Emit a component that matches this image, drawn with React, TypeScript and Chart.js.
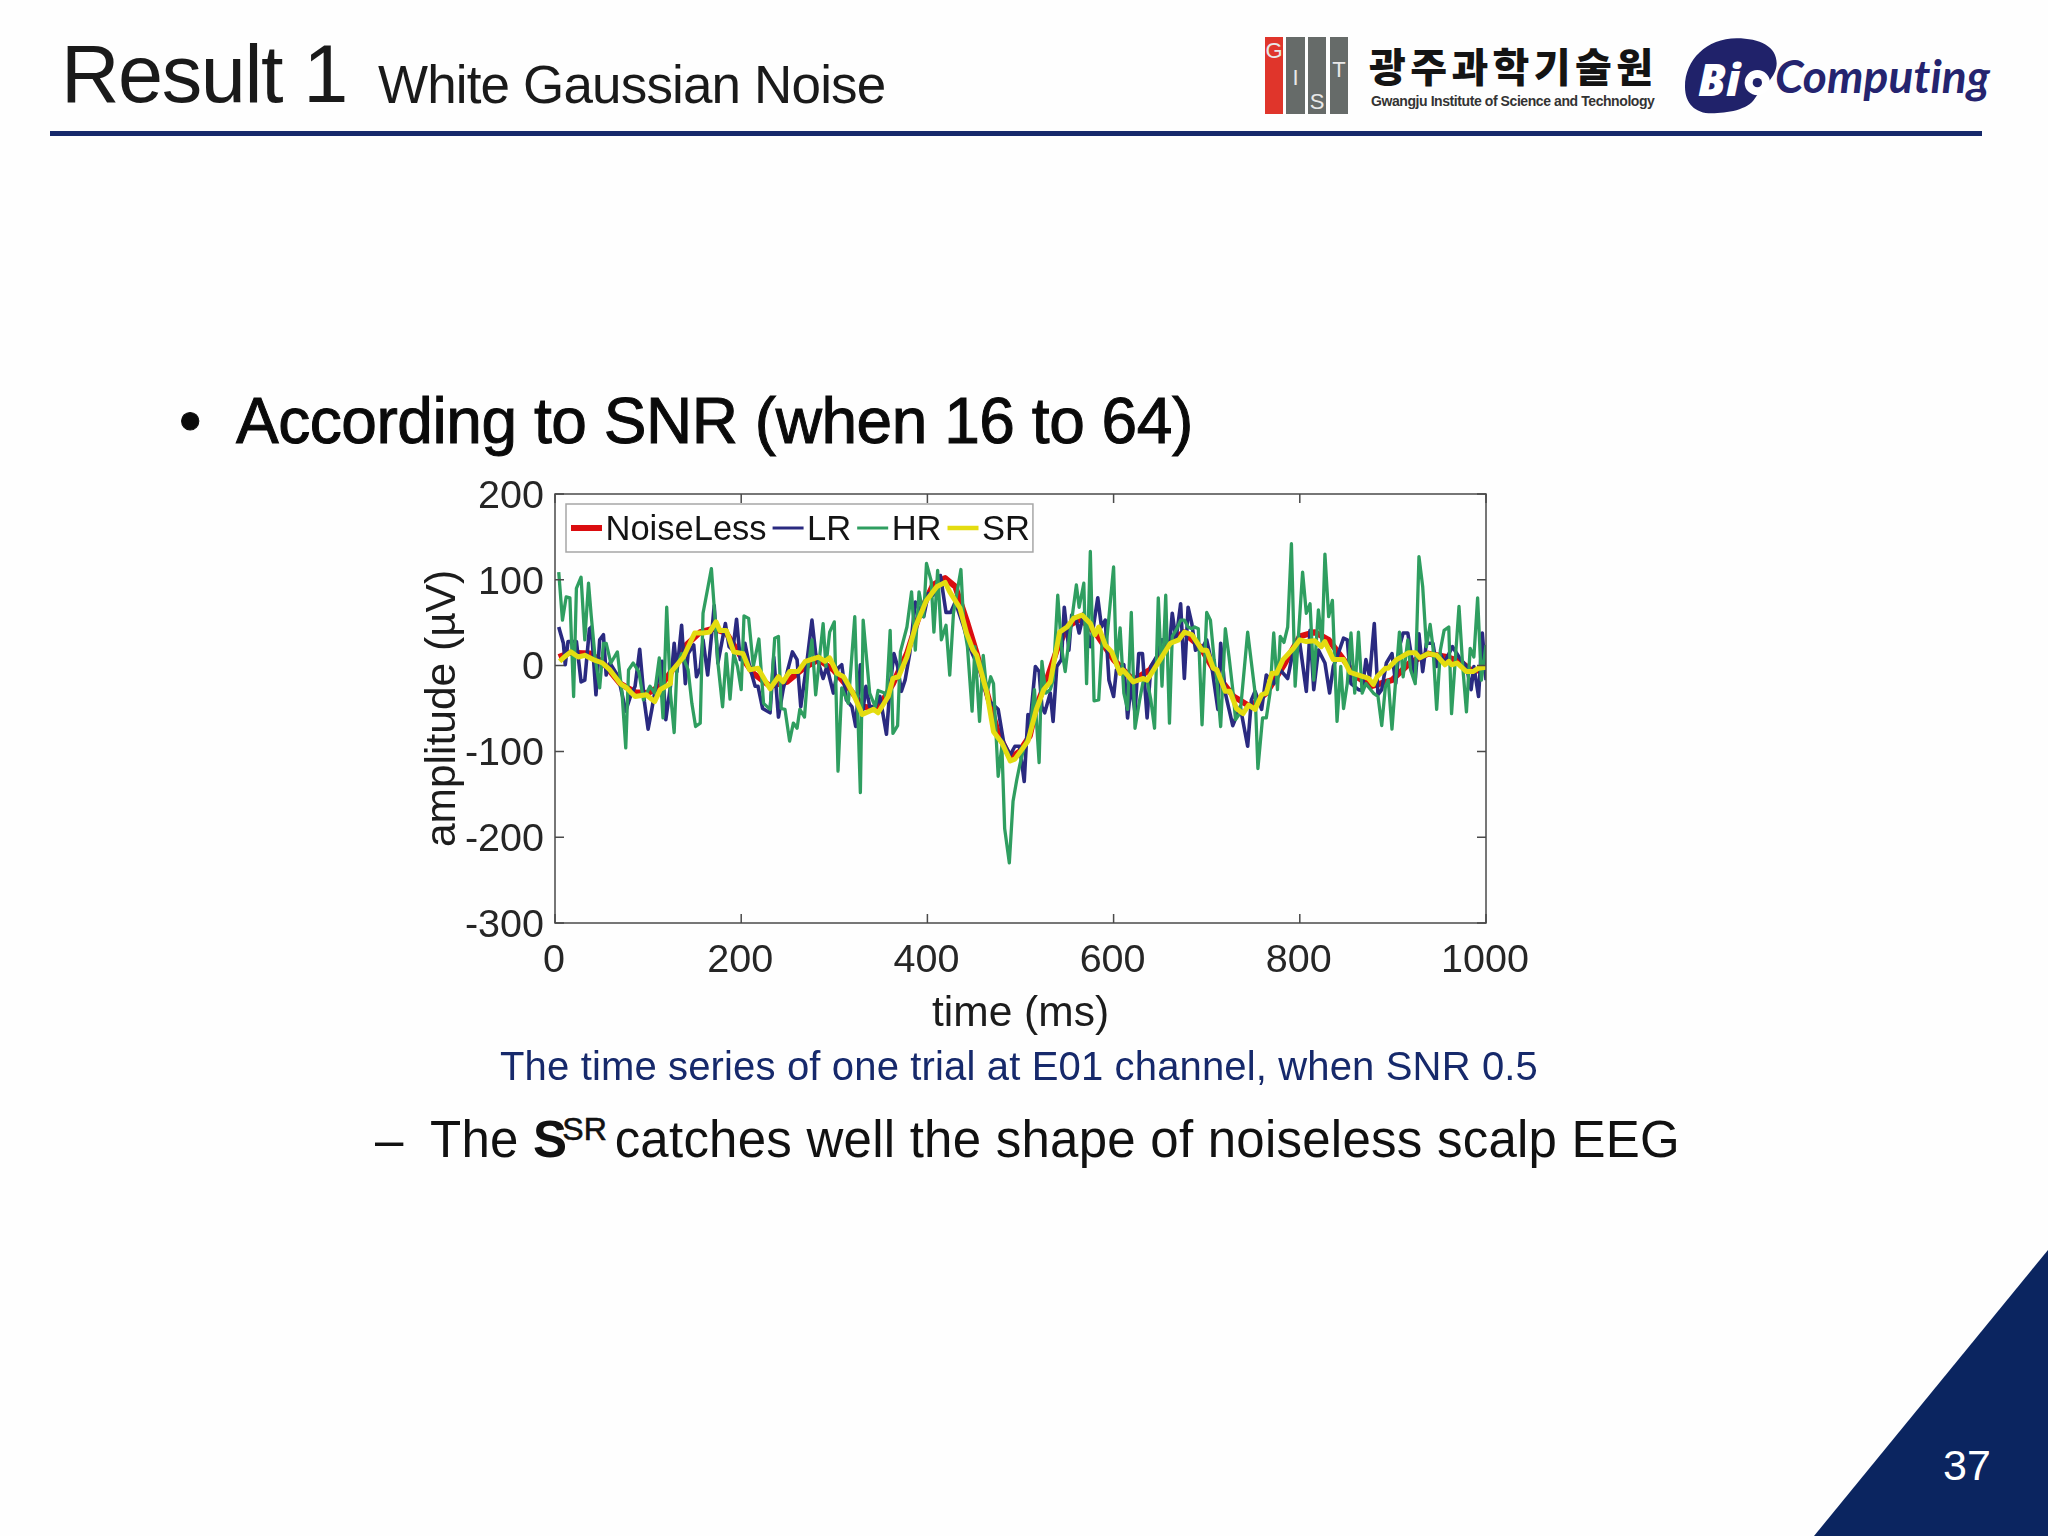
import React, { useEffect, useRef } from "react";
import { Chart, registerables } from "chart.js";

Chart.register(...registerables);

const xTicks = [0, 200, 400, 600, 800, 1000];
const yTicks = [-300, -200, -100, 0, 100, 200];

const noiselessTime = [4,16,38,52,70,86,100,113,125,141,156,170,184,199,213,231,249,267,283,299,317,331,347,363,378,392,406,419,430,442,453,465,476,489,499,510,517,528,539,550,564,582,600,621,639,657,675,693,711,729,747,764,782,800,816,831,847,861,877,899,918,938,958,972,986,1000];
const noiselessValue = [10,15,14,3,-21,-31,-32,-24,-7,24,39,43,38,12,-9,-24,-19,-3,7,-5,-28,-48,-50,-21,14,61,94,102,92,53,14,-36,-79,-108,-100,-82,-48,-17,18,45,55,36,7,-17,-5,24,39,22,-11,-36,-48,-32,-1,34,39,30,7,-13,-24,-17,3,14,10,5,-7,-3];

const lrTime = [4,9,11,14,23,28,32,37,39,44,48,52,55,59,68,76,81,86,91,96,100,104,107,115,119,124,128,131,136,140,143,149,152,156,159,164,168,171,175,183,187,191,195,199,204,209,215,218,223,231,235,240,245,250,255,260,264,270,276,280,288,292,299,304,308,313,319,323,328,331,334,338,344,349,356,360,364,368,372,376,381,387,390,396,401,406,414,420,425,430,439,444,449,456,465,476,482,489,494,499,504,508,510,516,520,523,526,532,535,539,544,547,552,555,560,563,568,575,583,587,591,595,600,603,611,615,619,623,627,631,636,640,646,652,656,660,663,667,672,676,680,684,688,696,700,704,712,715,720,728,736,744,748,752,759,764,772,779,787,791,799,807,811,815,820,827,832,836,840,847,851,855,863,867,871,875,880,884,888,893,899,903,907,911,916,924,928,932,936,943,947,951,955,964,971,979,984,987,992,996,1000];
const lrValue = [45,26,1,28,28,-19,-17,43,45,-34,30,36,-11,3,-13,-53,-36,-24,19,-42,-74,-51,-32,5,-63,-24,26,-7,47,-21,14,24,-13,-3,30,-11,34,70,3,49,22,18,54,7,26,-1,-24,-24,-50,-55,10,-60,-28,-5,16,7,-48,-1,53,14,-15,-1,-32,-3,1,-40,-48,-71,1,-51,-24,-48,-48,-36,-80,-24,14,-1,-30,-17,14,74,68,57,84,82,105,62,62,74,45,26,12,-5,-40,-51,-90,-104,-94,-94,-135,-57,-71,-1,-7,-48,-55,-32,-65,-1,7,68,18,59,53,38,61,22,79,45,53,-17,-36,-5,1,-61,-21,-55,14,14,-61,-1,10,30,30,22,61,30,72,-15,68,49,18,22,30,10,-51,26,-32,-70,-48,-94,-40,-30,-51,-11,-21,-5,-15,7,34,-30,41,-28,18,3,-32,-1,10,32,30,-21,-28,-29,7,-13,49,-34,-28,3,14,-21,22,38,38,-17,37,-7,26,26,-1,14,3,22,10,-1,-28,-1,-36,38,-17];

const hrTime = [4,8,12,16,20,23,28,32,36,39,43,48,52,55,60,67,72,76,79,84,90,95,102,107,112,116,120,124,128,131,136,143,147,151,156,159,163,168,172,175,180,184,188,192,196,200,203,208,213,219,224,231,236,240,243,247,252,256,260,263,268,272,276,280,288,291,295,300,304,308,315,322,328,331,338,344,347,354,356,360,363,368,371,378,383,387,391,396,399,404,407,411,415,420,424,428,436,439,443,448,451,456,460,464,468,471,476,480,483,488,492,496,499,504,510,515,520,523,527,532,535,540,544,548,552,555,560,563,568,571,575,579,584,588,592,600,603,607,611,615,619,623,628,632,636,640,644,648,652,656,660,663,668,672,676,680,684,687,691,695,700,704,708,711,715,720,724,728,731,736,744,752,755,760,764,768,772,776,779,783,787,791,795,803,807,811,815,820,824,827,831,835,840,844,847,851,855,859,863,867,871,879,884,888,892,895,899,903,907,911,916,919,924,928,932,936,940,943,947,951,955,960,963,971,975,979,983,987,991,995,1000];
const hrValue = [109,53,80,79,-36,90,103,30,96,57,10,-26,26,26,3,16,-32,-96,-5,3,-7,-40,-24,-32,9,-61,68,-32,-78,-1,14,-5,-44,-71,-67,61,84,113,53,3,-48,14,-39,14,-1,-28,58,55,-1,31,-44,-51,32,34,-50,-51,-88,-67,-73,-51,-60,-1,30,-34,49,-1,39,51,-123,-26,-44,57,-148,53,-32,-48,-29,-32,-40,41,-79,-70,16,45,86,18,86,57,119,99,39,111,30,47,-11,61,112,49,22,-53,22,-65,12,-32,-13,-21,-129,-94,-190,-230,-158,-133,-117,-94,-79,-28,-113,5,-32,-28,-17,82,22,-7,30,53,94,68,96,-21,133,-41,-40,34,22,115,-1,44,-32,-51,62,-73,-40,-17,-17,-40,-73,79,-24,82,-67,34,43,53,53,45,43,45,43,-69,62,53,7,-17,-71,43,10,-28,-63,-55,39,-32,-120,-61,-61,-32,38,-28,34,27,45,142,-24,109,61,72,-17,65,26,130,57,76,-65,-1,-50,-21,38,-32,39,-32,-21,-32,-36,-70,-24,-17,-74,-17,39,-13,30,-5,-21,127,92,22,48,22,-51,18,41,45,-56,69,-1,-54,20,10,79,-17,24];

const srTime = [5,10,17,25,32,41,51,59,70,77,86,98,107,113,124,125,138,150,159,166,173,177,184,192,202,209,218,231,240,245,252,261,269,283,290,295,303,310,320,330,342,347,358,363,369,378,387,399,410,419,424,435,442,449,453,464,471,480,489,494,508,517,525,532,537,542,550,557,566,575,580,584,591,598,607,610,621,632,636,650,661,670,676,684,695,700,707,711,720,725,732,739,745,752,759,764,770,775,782,793,800,807,816,823,827,836,847,854,863,874,879,883,892,895,904,917,924,929,938,947,956,960,963,969,979,986,992,1000];
const srValue = [5,10,16,10,12,7,3,-5,-21,-26,-36,-34,-42,-28,-21,-7,10,38,38,39,51,41,41,16,14,-5,-3,-27,-13,-19,-7,-7,5,10,5,9,-9,-13,-32,-57,-51,-55,-36,-15,-13,10,45,76,92,97,86,67,38,18,12,-32,-77,-90,-111,-109,-88,-51,-28,-19,10,39,45,55,59,49,36,45,24,16,-9,-5,-19,-15,-17,7,26,30,39,36,18,18,-3,-5,-30,-30,-50,-56,-46,-51,-34,-32,-9,-9,7,20,30,28,29,22,28,7,7,-8,-11,-15,-22,-13,-3,-3,7,15,15,9,14,12,1,5,1,3,-7,-7,-3,-2];

const toPoints = (t: number[], v: number[]) => t.map((x, i) => ({ x, y: v[i] }));

const boxPlugin = {
  id: "matlabBox",
  afterDatasetsDraw(chart: any) {
    const { ctx, chartArea: a, scales } = chart;
    ctx.save();
    ctx.strokeStyle = "#4a4a4a";
    ctx.lineWidth = 1.5;
    ctx.strokeRect(a.left, a.top, a.right - a.left, a.bottom - a.top);
    ctx.beginPath();
    for (const t of scales.x.ticks) {
      const p = scales.x.getPixelForValue(t.value);
      ctx.moveTo(p, a.top); ctx.lineTo(p, a.top + 9);
      ctx.moveTo(p, a.bottom); ctx.lineTo(p, a.bottom - 9);
    }
    for (const t of scales.y.ticks) {
      const p = scales.y.getPixelForValue(t.value);
      ctx.moveTo(a.left, p); ctx.lineTo(a.left + 9, p);
      ctx.moveTo(a.right, p); ctx.lineTo(a.right - 9, p);
    }
    ctx.stroke();
    ctx.restore();
  },
  afterDraw(chart: any) {
    const { ctx, chartArea: a } = chart;
    const font = '34.5px "Liberation Sans"';
    const left = a.left + 11, top = a.top + 10, h = 48;
    ctx.save();
    ctx.font = font;
    let w = 5;
    for (const d of chart.data.datasets) w += 31 + 3.5 + ctx.measureText(d.label).width + 6;
    ctx.fillStyle = "#ffffff";
    ctx.strokeStyle = "#a6a6a6";
    ctx.lineWidth = 1.5;
    ctx.fillRect(left, top, w - 3, h);
    ctx.strokeRect(left, top, w - 3, h);
    let x = left + 5;
    ctx.textBaseline = "alphabetic";
    for (const d of chart.data.datasets) {
      ctx.strokeStyle = d.borderColor;
      ctx.lineWidth = d.label === "NoiseLess" ? 6 : d.label === "SR" ? 4.5 : 3;
      ctx.beginPath();
      ctx.moveTo(x, top + 24); ctx.lineTo(x + 31, top + 24);
      ctx.stroke();
      x += 34.5;
      ctx.fillStyle = "#141414";
      ctx.fillText(d.label, x, top + 36);
      x += ctx.measureText(d.label).width + 6;
    }
    ctx.restore();
  },
};

const NoiseChart = () => {
  const ref = useRef<HTMLCanvasElement>(null);
  useEffect(() => {
    const tickFont = { family: '"Liberation Sans"', size: 39.5 };
    const titleFont = { family: '"Liberation Sans"', size: 42.5 };
    const line = (label: string, t: number[], v: number[], color: string, width: number, order: number) => ({
      label, data: toPoints(t, v), borderColor: color, backgroundColor: color, borderWidth: width,
      pointRadius: 0, tension: 0, borderJoinStyle: "round" as const, order,
    });
    const chart = new Chart(ref.current!, {
      type: "line",
      data: {
        datasets: [
          line("NoiseLess", noiselessTime, noiselessValue, "#db0d10", 6, 4),
          line("LR", lrTime, lrValue, "#2a2a80", 3.6, 3),
          line("HR", hrTime, hrValue, "#2f9e60", 3.3, 2),
          line("SR", srTime, srValue, "#e4dc10", 5, 1),
        ],
      },
      options: {
        animation: false,
        responsive: false,
        devicePixelRatio: 1,
        layout: { padding: { left: 0, right: 64, top: 24, bottom: 0 } },
        plugins: { legend: { display: false }, tooltip: { enabled: false } },
        scales: {
          x: {
            type: "linear", min: xTicks[0], max: xTicks[xTicks.length - 1],
            afterBuildTicks: (s: any) => { s.ticks = xTicks.map((value) => ({ value })); },
            afterFit: (s: any) => { s.height = 125; s.paddingLeft = 0; s.paddingRight = 0; },
            grid: { display: false },
            border: { display: false },
            ticks: { font: tickFont, color: "#262626", padding: 6, labelOffset: -1, maxRotation: 0, autoSkip: false, callback: (v: any) => String(v) },
            title: { display: true, text: "time (ms)", font: titleFont, color: "#1c1c1c", padding: { top: 0, bottom: 8 } },
          },
          y: {
            type: "linear", min: yTicks[0], max: yTicks[yTicks.length - 1],
            afterBuildTicks: (s: any) => { s.ticks = yTicks.map((value) => ({ value })); },
            afterFit: (s: any) => { s.width = 155; s.paddingTop = 0; s.paddingBottom = 0; },
            grid: { display: false },
            border: { display: false },
            ticks: { font: tickFont, color: "#262626", padding: 3, labelOffset: 3, autoSkip: false, callback: (v: any) => String(v) },
            title: { display: true, text: "amplitude (µV)", font: titleFont, color: "#1c1c1c", padding: { top: 18, bottom: 0 } },
          },
        },
      },
      plugins: [boxPlugin],
    } as any);
    return () => chart.destroy();
  }, []);
  return <canvas ref={ref} width={1150} height={578} style={{ position: "absolute", left: 400, top: 470, display: "block" }} />;
};

const T = ({ x, base, size, children, color = "#111", weight = 400, family = '"Liberation Sans"', spacing = 0, style = {} }: any) => (
  <div style={{ position: "absolute", left: x, top: base - 0.8465 * size, fontSize: size, lineHeight: 1, color, fontWeight: weight, fontFamily: family, letterSpacing: spacing, whiteSpace: "nowrap", ...style }}>{children}</div>
);

const Bar = ({ x, w, color, letter, top }: any) => (
  <div style={{ position: "absolute", left: x, top: 37, width: w, height: 77, background: color, color: "#e8e8e8" }}>
    <div style={{ position: "absolute", left: 0, width: w, top, textAlign: "center", fontFamily: '"Liberation Sans"', fontSize: 22, lineHeight: 1 }}>{letter}</div>
  </div>
);

export default function App() {
  useEffect(() => { document.body.style.margin = "0"; document.body.style.background = "#fff"; }, []);
  return (
    <div style={{ position: "absolute", left: 0, top: 0, width: 2048, height: 1536, background: "#fefefe", overflow: "hidden" }}>
      <T x={61} base={103} size={81} color="#1a1a1a" spacing={-1.4}>Result 1</T>
      <T x={378} base={103} size={53} color="#1a1a1a" spacing={-0.85}>White Gaussian Noise</T>
      <div style={{ position: "absolute", left: 50, top: 131, width: 1932, height: 4.5, background: "#16296b" }} />

      <Bar x={1265} w={18} color="#e0352b" letter="G" top={3} />
      <Bar x={1286} w={19} color="#666b69" letter="I" top={30} />
      <Bar x={1308} w={18} color="#666b69" letter="S" top={54} />
      <Bar x={1330} w={18} color="#666b69" letter="T" top={22} />
      <div style={{ position: "absolute", left: 1369, top: 41, fontFamily: '"Noto Sans CJK KR"', fontWeight: 900, fontSize: 40, lineHeight: "48px", color: "#141414", whiteSpace: "nowrap", letterSpacing: 4.4 }}>광주과학기술원</div>
      <div style={{ position: "absolute", left: 1371, top: 92, fontFamily: '"Liberation Sans"', fontWeight: 700, fontSize: 14, lineHeight: "18px", color: "#333", whiteSpace: "nowrap", letterSpacing: -0.42 }}>Gwangju Institute of Science and Technology</div>

      <svg style={{ position: "absolute", left: 1680, top: 30 }} width={320} height={90} viewBox="0 0 960 270">
        <path d="M15 170 C15 90 80 25 170 25 C240 25 290 50 290 100 C290 140 250 170 225 205 C205 240 140 250 95 250 C45 250 15 220 15 170 Z" fill="#20226a" />
        <circle cx={232} cy={158} r={38} fill="#fff" />
        <circle cx={232} cy={158} r={14} fill="#20226a" />
      </svg>
      <div style={{ position: "absolute", left: 1698, top: 53, fontFamily: '"Open Sans"', fontStyle: "italic", fontWeight: 800, fontSize: 44, lineHeight: "52px", color: "#fff", whiteSpace: "nowrap" }}>Bi</div>
      <div style={{ position: "absolute", left: 1775, top: 50, fontFamily: '"Lato"', fontStyle: "italic", fontWeight: 700, fontSize: 46, lineHeight: "52px", color: "#25246f", whiteSpace: "nowrap", letterSpacing: 0.1 }}>Computing</div>

      <T x={179} base={443} size={64} color="#0a0a0a" style={{ WebkitTextStroke: "1px #0a0a0a" }}>•</T>
      <T x={236} base={443} size={64} color="#0a0a0a" spacing={-0.45} style={{ WebkitTextStroke: "1px #0a0a0a" }}>According to SNR (when 16 to 64)</T>

      <NoiseChart />

      <T x={500} base={1080} size={40} color="#16296b" spacing={0.15}>The time series of one trial at E01 channel, when SNR 0.5</T>
      <T x={375} base={1157} size={51} color="#111">–</T>
      <T x={430} base={1157} size={51} color="#111" spacing={0.24}>The <b style={{ fontWeight: 700 }}>S</b><sup style={{ fontSize: 32, lineHeight: 0, fontWeight: 400, verticalAlign: "baseline", position: "relative", top: -17, marginLeft: -5, marginRight: -7, WebkitTextStroke: "0.6px #111" }}>SR</sup> catches well the shape of noiseless scalp EEG</T>

      <div style={{ position: "absolute", left: 1814, top: 1250, width: 234, height: 286, background: "#0b2560", clipPath: "polygon(100% 0, 100% 100%, 0 100%)" }} />
      <T x={1943} base={1480} size={43} color="#fff">37</T>
    </div>
  );
}
